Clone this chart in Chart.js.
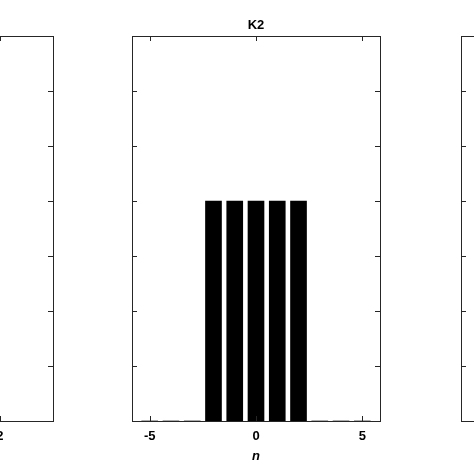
<!DOCTYPE html>
<html><head><meta charset="utf-8">
<script src="https://cdn.jsdelivr.net/npm/chart.js@4"></script>
<style>html,body{margin:0;padding:0;width:474px;height:474px;overflow:hidden;background:#fff;position:relative}
.c{position:absolute;top:0;width:474px;height:474px}</style></head>
<body>
<div class="c" style="left:-300px"><canvas id="cl"></canvas></div>
<div class="c" style="left:0"><canvas id="cm"></canvas></div>
<div class="c" style="left:329px"><canvas id="cr"></canvas></div>
<script>
const nValues = [-5,-4,-3,-2,-1,0,1,2,3,4,5];
const k2Values = [0,0,0,0.8,0.8,0.8,0.8,0.8,0,0,0];
const midTicks = [-5,0,5];
const leftTicks = [-2,0,2];
const yTicks = [0,0.2,0.4,0.6,0.8,1,1.2,1.4];
const FONT = '"Liberation Sans", Arial, sans-serif';

const boxPlugin = {
  id:'box',
  afterDraw(chart, args, o){
    const {ctx, chartArea:a, scales} = chart;
    ctx.save();
    ctx.strokeStyle = '#262626'; ctx.lineWidth = 1;
    ctx.strokeRect(a.left+0.5, a.top+0.5, a.width, a.height);
    const L = 5;
    ctx.beginPath();
    (o.xt||[]).forEach(v=>{const x=Math.round(scales.x.getPixelForValue(v))+0.5;
      ctx.moveTo(x,a.bottom); ctx.lineTo(x,a.bottom-L); ctx.moveTo(x,a.top); ctx.lineTo(x,a.top+L);});
    yTicks.forEach(v=>{const y=Math.round(scales.y.getPixelForValue(v))+0.5;
      ctx.moveTo(a.left,y); ctx.lineTo(a.left+L,y); ctx.moveTo(a.right,y); ctx.lineTo(a.right-L,y);});
    ctx.stroke();
    ctx.fillStyle='#000'; ctx.textAlign='center';
    if(o.labels){
      ctx.font='bold 13px '+FONT; ctx.textBaseline='top';
      (o.xt||[]).forEach(v=>ctx.fillText(String(v), scales.x.getPixelForValue(v), a.bottom+9));
    }
    if(o.title){ctx.font='bold 13px '+FONT; ctx.textBaseline='bottom'; ctx.fillText(o.title,(a.left+a.right)/2,a.top-4);}
    if(o.xlabel){ctx.font='bold italic 13px '+FONT; ctx.textBaseline='top'; ctx.fillText(o.xlabel,(a.left+a.right)/2,a.bottom+29);}
    ctx.restore();
  }
};

function make(id, xmin, xmax, padL, padR, data, opts){
  new Chart(document.getElementById(id), {
    type:'bar',
    data:{datasets:[{data:data, backgroundColor:'#000', borderWidth:0, barThickness:16}]},
    options:{
      responsive:false, animation:false, devicePixelRatio:1,
      layout:{padding:{left:padL,right:padR,top:36,bottom:0}},
      plugins:{legend:{display:false},tooltip:{enabled:false},box:opts},
      scales:{
        x:{type:'linear',min:xmin,max:xmax,display:true,grid:{display:false},border:{display:false},
           ticks:{display:false},afterFit(s){s.height=53;}},
        y:{min:0,max:1.4,display:true,grid:{display:false},border:{display:false},
           ticks:{display:false},afterFit(s){s.width=0;}}
      }
    },
    plugins:[boxPlugin]
  });
}
['cl','cm','cr'].forEach(id=>{const c=document.getElementById(id);c.width=474;c.height=474;});
make('cm',-5,5,132,94,nValues.map((n,i)=>({x:n,y:k2Values[i]})),{xt:midTicks,labels:true,title:'K2',xlabel:'n'});
make('cl',-3,3,105,121,[],{xt:leftTicks,labels:true,title:'',xlabel:''});
make('cr',-5,5,132,94,[],{xt:midTicks,labels:false,title:'',xlabel:''});
</script></body></html>
